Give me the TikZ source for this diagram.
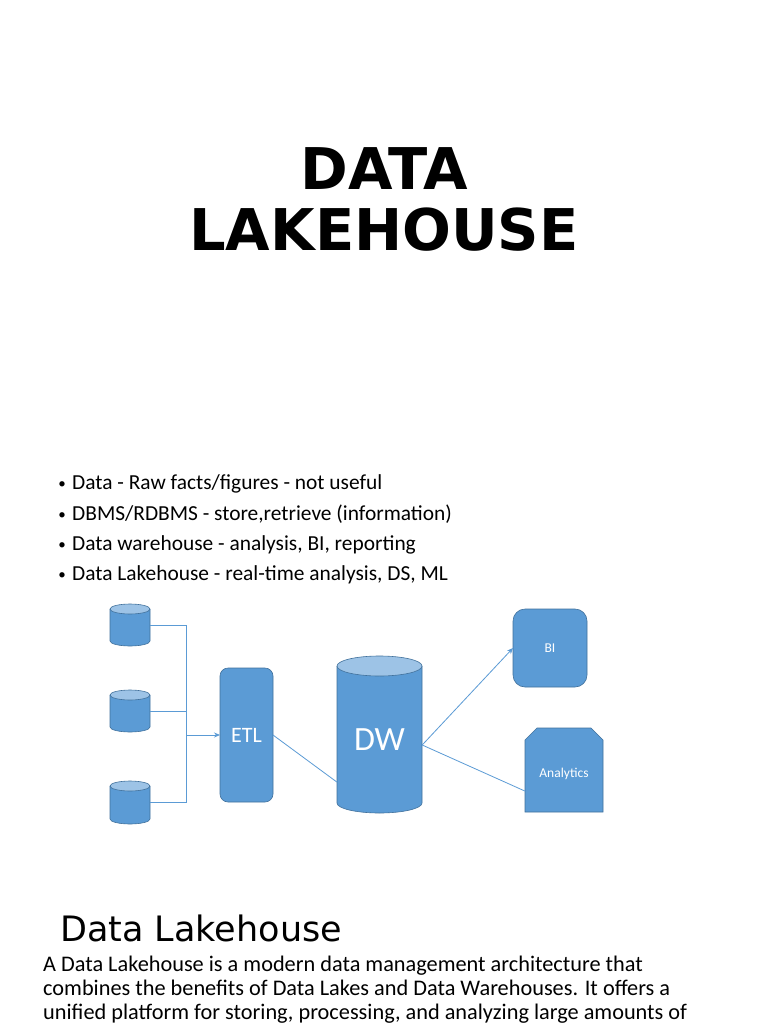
\documentclass[tikz,border=0pt]{standalone}
\usepackage{fontspec}
\setmainfont{Carlito}
\newfontfamily\titlefont{DejaVu Sans}
\usetikzlibrary{arrows.meta}
\definecolor{bluefill}{HTML}{5B9BD5}
\definecolor{blueline}{HTML}{41719C}
\definecolor{bluetop}{HTML}{9DC3E6}
% cylinder: #1 center x, #2 top y, #3 bottom y, #4 half width (pt), #5 y radius (pt)
\newcommand{\mycyl}[5]{%
  \fill[bluefill] (#1-#4,#2+#5) -- (#1-#4,#3-#5)
     arc[start angle=180,end angle=360,x radius=#4pt,y radius=#5pt]
     -- (#1+#4,#2+#5) -- cycle;
  \draw[blueline,line width=0.6pt] (#1-#4,#2+#5) -- (#1-#4,#3-#5)
     arc[start angle=180,end angle=360,x radius=#4pt,y radius=#5pt]
     -- (#1+#4,#2+#5);
  \draw[blueline,line width=0.6pt,fill=bluetop] (#1,#2+#5) ellipse[x radius=#4pt,y radius=#5pt];
}
\begin{document}
\begin{tikzpicture}[x=1pt,y=-1pt,
  boxshape/.style={fill=bluefill,draw=blueline,line width=0.6pt,inner sep=0pt,outer sep=0pt},
  conn/.style={draw=bluefill,line width=0.8pt},
  tip/.style={-{Stealth[length=6pt,width=5pt]}},
  whitetext/.style={text=white},
  bodytext/.style={anchor=base west,inner sep=0pt,font=\fontsize{21.4}{24}\selectfont},
  bul/.style={anchor=base,inner sep=0pt,font=\fontsize{15}{18}\selectfont},
  para/.style={anchor=base west,inner sep=0pt,font=\fontsize{22.3}{25}\selectfont}]
\useasboundingbox[fill=white] (0,0) rectangle (768,1024);

% Title
\node[anchor=base,font=\titlefont\bfseries\fontsize{57.5}{60}\selectfont] (t1) at (384,190) {DATA};
\node[anchor=base,font=\titlefont\bfseries\fontsize{57.5}{60}\selectfont] (t2) at (384,251) {LAKEHOUSE};

% Bullets
\node[bul] (d1) at (62,488) {•};
\node[bodytext] (b1) at (72,489) {Data - Raw facts/figures - not useful};
\node[bul] (d2) at (62,519) {•};
\node[bodytext] (b2) at (72,520) {DBMS/RDBMS - store,retrieve (information)};
\node[bul] (d3) at (62,549) {•};
\node[bodytext] (b3) at (72,550) {Data warehouse - analysis, BI, reporting};
\node[bul] (d4) at (62,579) {•};
\node[bodytext] (b4) at (72,580) {Data Lakehouse - real-time analysis, DS, ML};

% Small cylinders
\mycyl{130}{604}{646}{20}{5}
\mycyl{130}{690}{732}{20}{5}
\mycyl{130}{781}{824}{20}{5}
\node[inner sep=0pt,minimum width=40pt,minimum height=42pt] (c1) at (130,625) {};
\node[inner sep=0pt,minimum width=40pt,minimum height=42pt] (c2) at (130,711) {};
\node[inner sep=0pt,minimum width=40pt,minimum height=42pt] (c3) at (130,802) {};

% ETL
\node[boxshape,rounded corners=8pt,minimum width=53pt,minimum height=134pt,
      whitetext,font=\fontsize{22}{24}\selectfont] (etl) at (246.5,735) {ETL};

% DW cylinder
\mycyl{379.5}{656}{813}{42.5}{10}
\node[inner sep=0pt,minimum width=85pt,minimum height=157pt,whitetext,
      font=\fontsize{34}{36}\selectfont] (dw) at (379.5,740) {DW};

% BI
\node[boxshape,rounded corners=12pt,minimum width=74pt,minimum height=78pt,
      whitetext,font=\fontsize{13.5}{15}\selectfont] (bi) at (550,648) {BI};

% Analytics (snipped top corners)
\fill[bluefill,draw=blueline,line width=0.6pt]
  (525,812) -- (525,740) -- (537,728) -- (591,728) -- (603,740) -- (603,812) -- cycle;
\node[inner sep=0pt,minimum width=78pt,minimum height=84pt,whitetext,
      font=\fontsize{13.5}{15}\selectfont] (an) at (564,774) {Analytics};

% Connectors
\coordinate (j) at (186,735);
\draw[conn] (c1.east) -| (j);
\draw[conn] (c2.east) -| (j);
\draw[conn] (c3.east) -| (j);
\draw[conn,tip] (j) -- (etl.west);
\draw[conn] (etl.east) -- ([yshift=-42pt]dw.west);
\draw[conn,tip] ([yshift=-5pt]dw.east) -- (bi.west);
\draw[conn] ([yshift=-5pt]dw.east) -- ([yshift=-17pt]an.west);

% Bottom text
\node[anchor=base west,inner sep=0pt,text depth=0pt,font=\titlefont\fontsize{35}{38}\selectfont] (h) at (60,941) {Data Lakehouse};
\node[para] (p1) at (43,971) {A Data Lakehouse is a modern data management architecture that};
\node[para] (p2) at (43,995) {combines the benefits of Data Lakes and Data Warehouses. It offers a};
\node[para] (p3) at (43,1019) {unified platform for storing, processing, and analyzing large amounts of};
\end{tikzpicture}
\end{document}
